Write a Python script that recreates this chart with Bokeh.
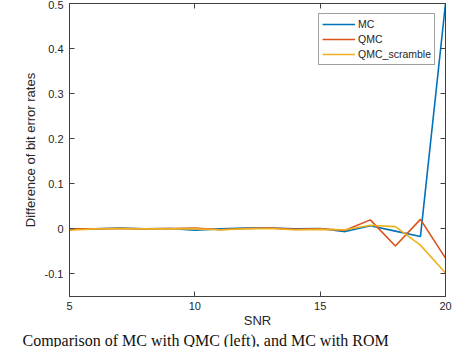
from bokeh.plotting import figure
from bokeh.models import Range1d, LinearAxis, FixedTicker, Legend, LegendItem, Title
from bokeh.embed import file_html
from bokeh.resources import INLINE

snr = [5, 6, 7, 8, 9, 10, 11, 12, 13, 14, 15, 16, 17, 18, 19, 20]
mc = [0.0, 0.0, 0.002, 0.0, 0.001, -0.003, 0.0, 0.002, 0.002, 0.0, 0.001, -0.006, 0.007, -0.005, -0.017, 0.5]
qmc = [0.0, 0.0, 0.001, 0.0, 0.001, 0.002, -0.002, 0.001, 0.002, -0.001, 0.0, -0.003, 0.02, -0.038, 0.021, -0.065]
qmc_scramble = [-0.003, 0.0, 0.001, 0.0, 0.0, 0.0, -0.002, 0.0, 0.001, -0.002, -0.001, -0.002, 0.008, 0.005, -0.036, -0.098]

x_ticks = [5, 10, 15, 20]
y_ticks = [-0.1, 0, 0.1, 0.2, 0.3, 0.4, 0.5]
y_tick_labels = ["-0.1", "0", "0.1", "0.2", "0.3", "0.4", "0.5"]
series_names = ["MC", "QMC", "QMC_scramble"]
caption = "Comparison of MC with QMC (left), and MC with ROM"

W, H = 458, 347
L, R, T, B = 69, 13, 3, 51
AX = "#404040"
TXT = "#262626"
FONT = "Liberation Sans"

p = figure(width=W, height=H, output_backend="svg", toolbar_location=None,
           x_range=Range1d(5, 20), y_range=Range1d(-0.15, 0.5),
           min_border_left=L, min_border_right=R, min_border_top=T, min_border_bottom=B,
           x_axis_label="SNR", y_axis_label="Difference of bit error rates")
p.grid.visible = False
p.outline_line_color = AX
p.background_fill_color = "white"
p.border_fill_color = "white"

p.xaxis.ticker = FixedTicker(ticks=x_ticks)
p.yaxis.ticker = FixedTicker(ticks=y_ticks)
p.yaxis.major_label_overrides = {t: s for t, s in zip(y_ticks, y_tick_labels)}

for ax in (p.xaxis[0], p.yaxis[0]):
    ax.major_tick_in = 5
    ax.major_tick_out = 0
    ax.minor_tick_line_color = None
    ax.axis_line_color = AX
    ax.major_tick_line_color = AX
    ax.major_label_text_font = FONT
    ax.major_label_text_font_size = "11px"
    ax.major_label_text_color = TXT
    ax.axis_label_text_font = FONT
    ax.axis_label_text_font_size = "13px"
    ax.axis_label_text_font_style = "normal"
    ax.axis_label_text_color = TXT
p.xaxis.major_label_standoff = 5
p.xaxis.axis_label_standoff = 0
p.yaxis.major_label_standoff = 6
p.yaxis.axis_label_standoff = 4

for loc, tk in (("above", x_ticks), ("right", y_ticks)):
    ax = LinearAxis(ticker=FixedTicker(ticks=tk), major_tick_in=5, major_tick_out=0,
                    minor_tick_line_color=None, axis_line_color=AX, major_tick_line_color=AX,
                    major_label_text_font_size="0px", major_label_standoff=0,
                    major_label_text_color=None)
    p.add_layout(ax, loc)

colors = ["#0072BD", "#D95319", "#EDB120"]
items = []
for name, ys, c in zip(series_names, [mc, qmc, qmc_scramble], colors):
    r = p.line(snr, ys, line_color=c, line_width=1.6)
    items.append(LegendItem(label=name, renderers=[r]))

legend = Legend(items=items, location="top_right", padding=3, spacing=1,
                label_height=14, glyph_height=14, glyph_width=33, label_standoff=3,
                label_text_font=FONT, label_text_font_size="10.5px", label_text_color=TXT,
                border_line_color=AX, border_line_width=1, margin=10,
                background_fill_color="white", background_fill_alpha=1)
p.add_layout(legend)

# caption line below the plot
cap = Title(text=caption, align="left", offset=-47, standoff=-2,
            text_font="Liberation Serif", text_font_size="16px", text_color="#111111",
            text_font_style="normal")
p.add_layout(cap, "below")

open("out.html", "w").write(file_html(p, INLINE))
